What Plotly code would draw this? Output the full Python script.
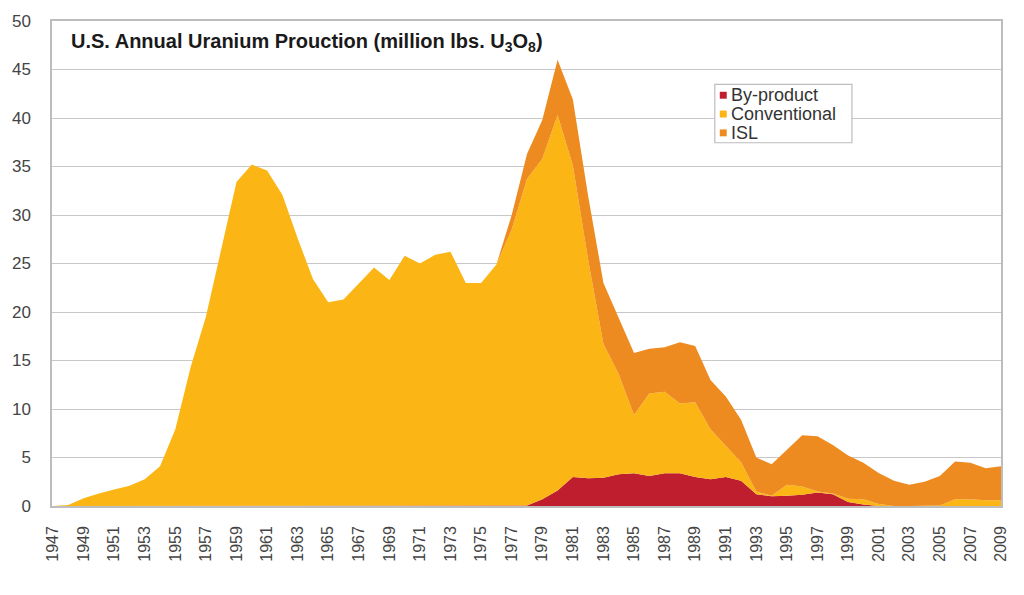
import plotly.graph_objects as go

years = list(range(1947, 2010))

byproduct = [0] * 31 + [
    0.05, 0.7, 1.6, 3.0, 2.86, 2.9, 3.27, 3.37, 3.1, 3.37, 3.37, 3.0, 2.75,
    3.0, 2.6, 1.2, 1.0, 1.05, 1.15, 1.4, 1.2, 0.4, 0.15,
] + [0] * 9

conventional = [
    0, 0.1, 0.8, 1.3, 1.7, 2.1, 2.75, 4.1, 7.9, 14.3, 19.5, 26.3, 33.4, 35.2,
    34.6, 32.1, 27.6, 23.4, 21.0, 21.3, 23.0, 24.6, 23.3, 25.8, 25.0, 25.9,
    26.2, 23.0, 23.0, 24.9,
    28.5, 33.65, 35.1, 38.7, 32.1, 22.5, 13.8, 10.3, 6.0, 8.5, 8.4, 7.2, 7.7,
    5.15, 3.2, 1.9, 0.3, 0.05, 1.15, 0.85, 0.1, 0.1, 0.35, 0.55, 0.2, 0, 0, 0,
    0.05, 0.7, 0.7, 0.6, 0.6,
]

isl = [0] * 30 + [
    1.5, 2.6, 4.0, 5.7, 6.8, 6.6, 6.3, 5.8, 6.4, 4.6, 4.6, 6.3, 5.8, 5.1, 5.1,
    4.4, 3.5, 3.25, 3.6, 5.3, 5.7, 5.0, 4.45, 3.75, 3.2, 2.6, 2.2, 2.5, 3.05,
    3.9, 3.75, 3.3, 3.5,
]

series_names = ["By-product", "Conventional", "ISL"]
series_values = [byproduct, conventional, isl]
series_colors = ["#BE1E2D", "#FBB515", "#EE8B20"]

x_tick_years = years[::2]
x_tick_labels = [str(y) for y in x_tick_years]
y_tick_vals = list(range(0, 55, 5))
y_tick_labels = [str(v) for v in y_tick_vals]

title_text = "<b>U.S. Annual Uranium Prouction (million lbs. U<sub>3</sub>O<sub>8</sub>)</b>"

FONT = "Liberation Sans, Arial, Helvetica, sans-serif"

fig = go.Figure()
for name, vals, col in zip(series_names, series_values, series_colors):
    fig.add_trace(go.Scatter(
        x=years, y=vals, name=name, mode="lines",
        stackgroup="one", line=dict(width=0, color=col),
        fillcolor=col, showlegend=False,
    ))

# plot area geometry (pixels) for converting legend placement into paper coords
L, R, T, B = 46, 1001, 16, 506
def px(xp):
    return (xp - L) / (R - L)
def py(yp):
    return 1 - (yp - T) / (B - T)

shapes = [dict(type="rect", xref="paper", yref="paper",
               x0=px(713), x1=px(851), y0=py(139), y1=py(80),
               line=dict(color="#BDBDBD", width=1.2), fillcolor="white", layer="above")]
annotations = [dict(text=title_text, xref="paper", yref="paper",
                    x=px(63), y=py(38), xanchor="left", yanchor="middle",
                    showarrow=False, font=dict(family=FONT, size=20, color="#1a1a1a"))]
row_y = [91, 110, 129]
for name, col, ry in zip(series_names, series_colors, row_y):
    shapes.append(dict(type="rect", xref="paper", yref="paper",
                       x0=px(718), x1=px(725), y0=py(ry + 3.5), y1=py(ry - 3.5),
                       line=dict(width=0), fillcolor=col, layer="above"))
    annotations.append(dict(text=name, xref="paper", yref="paper",
                            x=px(727), y=py(ry), xanchor="left", yanchor="middle",
                            showarrow=False,
                            font=dict(family=FONT, size=18, color="#333333")))

fig.update_layout(
    width=1024, height=595,
    margin=dict(l=L, r=1024 - R, t=T, b=595 - B),
    paper_bgcolor="white", plot_bgcolor="white",
    font=dict(family=FONT, color="#444444"),
    shapes=shapes, annotations=annotations,
    showlegend=False,
)
fig.update_xaxes(
    range=[1946.935, 2009], tickmode="array",
    tickvals=x_tick_years, ticktext=x_tick_labels, tickangle=-90,
    tickfont=dict(size=16, color="#444444"), showgrid=False, zeroline=False,
    showline=True, linecolor="#BDBDBD", linewidth=1.5, mirror=True,
    ticks="", ticklabelstandoff=12,
)
fig.update_yaxes(
    range=[0, 50], tickmode="array", tickvals=y_tick_vals, ticktext=y_tick_labels,
    tickfont=dict(size=17, color="#444444"), showgrid=True, gridcolor="#C8C8C8",
    gridwidth=1.3, zeroline=False, showline=True, linecolor="#BDBDBD",
    linewidth=1.5, mirror=True, ticks="", ticklabelstandoff=16,
)

fig.write_html("out.html")
